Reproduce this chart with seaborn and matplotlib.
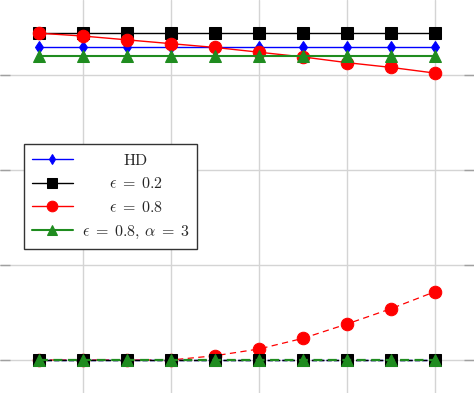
import numpy as np
import pandas as pd
import seaborn as sns
import matplotlib.pyplot as plt
from matplotlib.transforms import Affine2D

# --- data ---
steps = [1, 2, 3, 4, 5, 6, 7, 8, 9, 10]

# solid curves (upper group)
hd_solid = [3.30, 3.30, 3.30, 3.30, 3.30, 3.30, 3.30, 3.30, 3.30, 3.30]
eps02_solid = [3.44, 3.44, 3.44, 3.44, 3.44, 3.44, 3.44, 3.44, 3.44, 3.44]
eps08_solid = [3.44, 3.41, 3.37, 3.33, 3.29, 3.24, 3.19, 3.13, 3.08, 3.02]
eps08a3_solid = [3.20, 3.20, 3.20, 3.20, 3.20, 3.20, 3.20, 3.20, 3.20, 3.20]

# dashed curves (lower group)
hd_dashed = [0, 0, 0, 0, 0, 0, 0, 0, 0, 0]
eps02_dashed = [0, 0, 0, 0, 0, 0, 0, 0, 0, 0]
eps08_dashed = [0, 0, 0, 0, 0.045, 0.116, 0.228, 0.379, 0.54, 0.719]
eps08a3_dashed = [0, 0, 0, 0, 0, 0, 0, 0, 0, 0]

labels = [r'$\mathrm{HD}$', r'$\epsilon \;=\; 0.2$', r'$\epsilon \;=\; 0.8$',
          r'$\epsilon \;=\; 0.8,\, \alpha \;=\; 3$']

GREEN = '#1f8c1f'

sns.set_theme(style="whitegrid")
plt.rcParams['mathtext.fontset'] = 'cm'
plt.rcParams['font.family'] = ['DejaVu Serif']

fig = plt.figure(figsize=(4.74, 3.93), dpi=100)
ax = fig.add_axes([0, 0, 1, 1])

line_kw = dict(linewidth=1.0)

# solid series
sns.lineplot(x=steps, y=hd_solid, ax=ax, color='blue', marker='d', markersize=6.5,
             markeredgecolor='blue', label=labels[0], **line_kw)
sns.lineplot(x=steps, y=eps02_solid, ax=ax, color='black', marker='s', markersize=8.5,
             markeredgecolor='black', label=labels[1], **line_kw)
sns.lineplot(x=steps, y=eps08_solid, ax=ax, color='red', marker='o', markersize=9,
             markeredgecolor='red', label=labels[2], **line_kw)
sns.lineplot(x=steps, y=eps08a3_solid, ax=ax, color=GREEN, marker='^', markersize=8.5,
             markeredgecolor=GREEN, label=labels[3], linewidth=1.5)

# dashed series
sns.lineplot(x=steps, y=eps08_dashed, ax=ax, color='red', marker='o', markersize=9,
             markeredgecolor='red', linestyle=(0, (5, 3.5)), legend=False, linewidth=0.9)
sns.lineplot(x=steps, y=hd_dashed, ax=ax, color='blue', marker='d', markersize=6.5,
             markeredgecolor='blue', linestyle='--', legend=False, **line_kw)
sns.lineplot(x=steps, y=eps02_dashed, ax=ax, color='black', marker='s', markersize=8.5,
             markeredgecolor='black', linestyle='--', legend=False, **line_kw)
sns.lineplot(x=steps, y=eps08a3_dashed, ax=ax, color=GREEN, marker='^', markersize=8.5,
             markeredgecolor=GREEN, linestyle=(0, (4, 2.5)), linewidth=1.6, legend=False)

# axes window: the reference is a crop of a bigger plot
ax.set_xlim(1 - 39 / 44, 1 + 435 / 44)
ax.set_ylim(-33 / 95, 360 / 95)
ax.set_xticks([2, 4, 6, 8, 10])
ax.set_yticks([0, 1, 2, 3])
ax.set_xticklabels([])
ax.set_yticklabels([])
ax.grid(True, color='#d4d4d4', linewidth=1.0)
ax.tick_params(axis='y', direction='in', left=True, right=True, length=7.5,
               width=1.0, color='#a0a0a0', labelleft=False)
ax.tick_params(axis='x', bottom=False, top=False, labelbottom=False)
for sp in ax.spines.values():
    sp.set_visible(False)

leg = ax.legend(loc='upper left', bbox_to_anchor=(24 / 474, 1 - 144 / 393),
                borderaxespad=0, fontsize=11.5, handlelength=2.6, handletextpad=0.55,
                labelspacing=0.42, borderpad=0.48, fancybox=False, framealpha=1,
                edgecolor='#333333', numpoints=1, markerscale=0.85)
leg.get_frame().set_linewidth(1.0)

# center legend texts like pgfplots does
fig.canvas.draw()
texts = leg.get_texts()
widths = [t.get_window_extent().width for t in texts]
wmax = max(widths)
for t, w in zip(texts, widths):
    dx = (wmax - w) / 2
    t.set_transform(t.get_transform() + Affine2D().translate(dx, 0))

fig.savefig('out.png', dpi=100)
